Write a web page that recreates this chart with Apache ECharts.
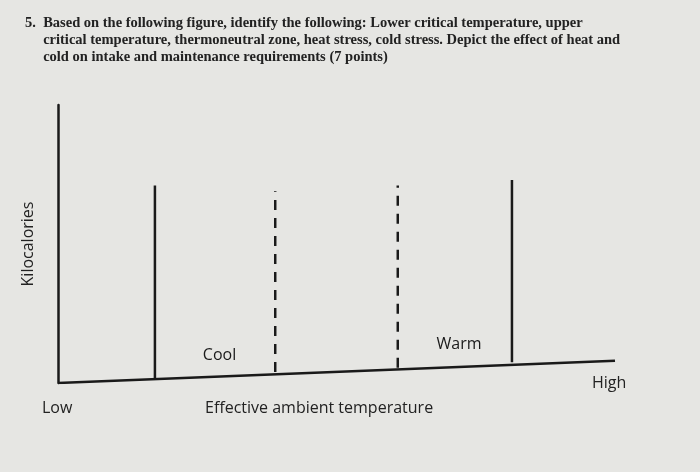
<!DOCTYPE html>
<html>
<head>
<meta charset="utf-8">
<script src="https://cdn.jsdelivr.net/npm/echarts@6/dist/echarts.min.js"></script>
<style>
  html, body { margin: 0; padding: 0; background: #e6e6e3; }
  #main { width: 700px; height: 472px; }
</style>
</head>
<body>
<div id="main"></div>
<script>
// axis units: x 0..100 (Low..High), y 0..100 (kilocalories, unlabelled)
var baseline = [[0, 0], [100, 8]];
var solidLines = [
  [[17.4, 1.5], [17.4, 71]],
  [[81.5, 7.5], [81.5, 73]]
];
var dashedLines = [
  [[39, 4], [39, 69]],
  [[61, 5.5], [61, 71]]
];
var zoneLabels = [
  {name: 'Cool', value: [29, 10]},
  {name: 'Warm', value: [72, 14]}
];
var titleText = '5.  Based on the following figure, identify the following: Lower critical temperature, upper\n' +
  '     critical temperature, thermoneutral zone, heat stress, cold stress. Depict the effect of heat and\n' +
  '     cold on intake and maintenance requirements (7 points)';

var myChart = echarts.init(document.getElementById('main'));

var series = [];
var lineStyleSolid = {color: '#1a1a1a', width: 2.5, type: 'solid'};
series.push({type: 'line', data: baseline, symbol: 'none', lineStyle: lineStyleSolid});
solidLines.forEach(function (d) {
  series.push({type: 'line', data: d, symbol: 'none', lineStyle: lineStyleSolid});
});
dashedLines.forEach(function (d) {
  series.push({type: 'line', data: d, symbol: 'none',
    lineStyle: {color: '#1a1a1a', width: 2.5, type: [10, 8]}});
});
series.push({
  type: 'scatter', data: zoneLabels, symbolSize: 0, itemStyle: {opacity: 1},
  label: {show: true, formatter: '{b}', fontFamily: 'Open Sans', fontSize: 16, color: '#1a1a1a', opacity: 1}
});

var option = {
  backgroundColor: '#e6e6e3',
  animation: false,
  title: {
    text: titleText, left: 20, top: 10,
    textStyle: {fontFamily: 'Liberation Serif', fontWeight: 'bold', fontSize: 14.5, color: '#222', lineHeight: 17}
  },
  grid: {left: 58, right: 85, top: 105, bottom: 89},
  xAxis: {
    type: 'value', min: 0, max: 100, show: true,
    axisLine: {show: false}, axisTick: {show: false}, axisLabel: {show: false}, splitLine: {show: false}
  },
  yAxis: {
    type: 'value', min: 0, max: 100,
    name: 'Kilocalories', nameLocation: 'middle', nameGap: 22,
    nameTextStyle: {fontFamily: 'Open Sans', fontSize: 16, color: '#222'},
    axisLine: {show: true, lineStyle: {color: '#1a1a1a', width: 2.5}},
    axisTick: {show: false}, axisLabel: {show: false}, splitLine: {show: false}
  },
  graphic: [
    {type: 'text', left: 42, top: 400, style: {text: 'Low', font: '16px "Open Sans"', fill: '#222'}},
    {type: 'text', left: 205, top: 400, style: {text: 'Effective ambient temperature', font: '16px "Open Sans"', fill: '#222'}},
    {type: 'text', left: 592, top: 375, style: {text: 'High', font: '16px "Open Sans"', fill: '#222'}}
  ],
  series: series
};
myChart.setOption(option);
</script>
</body>
</html>
